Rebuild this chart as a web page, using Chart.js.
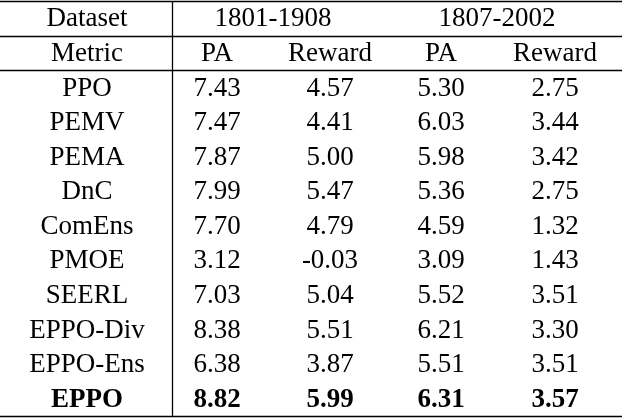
<!DOCTYPE html>
<html>
<head>
<meta charset="utf-8">
<script src="https://cdn.jsdelivr.net/npm/chart.js@4/dist/chart.umd.min.js"></script>
<style>
  html, body { margin: 0; padding: 0; background: #fff; }
  #wrap { width: 624px; height: 419px; }
</style>
</head>
<body>
<div id="wrap"><canvas id="tbl" width="624" height="419"></canvas></div>
<script>
// table content
const groups = ['1801-1908', '1807-2002'];
const metrics = ['PA', 'Reward', 'PA', 'Reward'];
const methods = ['PPO', 'PEMV', 'PEMA', 'DnC', 'ComEns', 'PMOE', 'SEERL', 'EPPO-Div', 'EPPO-Ens', 'EPPO'];
const pa1 = ['7.43', '7.47', '7.87', '7.99', '7.70', '3.12', '7.03', '8.38', '6.38', '8.82'];
const reward1 = ['4.57', '4.41', '5.00', '5.47', '4.79', '-0.03', '5.04', '5.51', '3.87', '5.99'];
const pa2 = ['5.30', '6.03', '5.98', '5.36', '4.59', '3.09', '5.52', '6.21', '5.51', '6.31'];
const reward2 = ['2.75', '3.44', '3.42', '2.75', '1.32', '1.43', '3.51', '3.30', '3.51', '3.57'];
const boldRow = 'EPPO';

// layout (x in 0..624 units)
const colX = [87, 217, 330, 441, 555];
const groupX = [273, 497];
const splitX = 172;

const tablePlugin = {
  id: 'table',
  afterDraw(chart) {
    const ctx = chart.ctx;
    const x = chart.scales.x, y = chart.scales.y;
    const rowY = i => y.getPixelForValue(i);
    const edgeY = i => y.getPixelForValue(i - 0.5);
    ctx.save();
    ctx.fillStyle = '#000';
    ctx.textAlign = 'center';
    ctx.textBaseline = 'middle';
    const font = b => (b ? 'bold ' : '') + '27px "Liberation Serif", "DejaVu Serif", serif';
    const put = (t, cx, r, b) => { ctx.font = font(b); ctx.fillText(t, x.getPixelForValue(cx), rowY(r) + 1); };

    put('Dataset', colX[0], 0);
    groups.forEach((g, i) => put(g, groupX[i], 0));
    put('Metric', colX[0], 1);
    metrics.forEach((m, i) => put(m, colX[i + 1], 1));
    const cols = [pa1, reward1, pa2, reward2];
    methods.forEach((m, i) => {
      const b = m === boldRow;
      put(m, colX[0], i + 2, b);
      cols.forEach((c, j) => put(c[i], colX[j + 1], i + 2, b));
    });

    // rules
    ctx.strokeStyle = '#000';
    ctx.lineWidth = 1.3;
    const hline = r => { const yy = Math.round(edgeY(r)) + 0.5; ctx.beginPath(); ctx.moveTo(x.getPixelForValue(0), yy); ctx.lineTo(x.getPixelForValue(622), yy); ctx.stroke(); };
    [0, 1, 2, 12].forEach(hline);
    const vx = Math.round(x.getPixelForValue(splitX)) + 0.5;
    ctx.beginPath(); ctx.moveTo(vx, edgeY(0)); ctx.lineTo(vx, edgeY(12)); ctx.stroke();
    ctx.restore();
  }
};

new Chart(document.getElementById('tbl'), {
  type: 'scatter',
  data: { datasets: [] },
  options: {
    responsive: false,
    animation: false,
    events: [],
    layout: { padding: { top: 1, bottom: 3, left: 0, right: 0 } },
    plugins: { legend: { display: false }, tooltip: { enabled: false } },
    scales: {
      x: { type: 'linear', min: 0, max: 624, display: false },
      y: { type: 'linear', min: -0.5, max: 11.5, reverse: true, display: false }
    }
  },
  plugins: [tablePlugin]
});
</script>
</body>
</html>
